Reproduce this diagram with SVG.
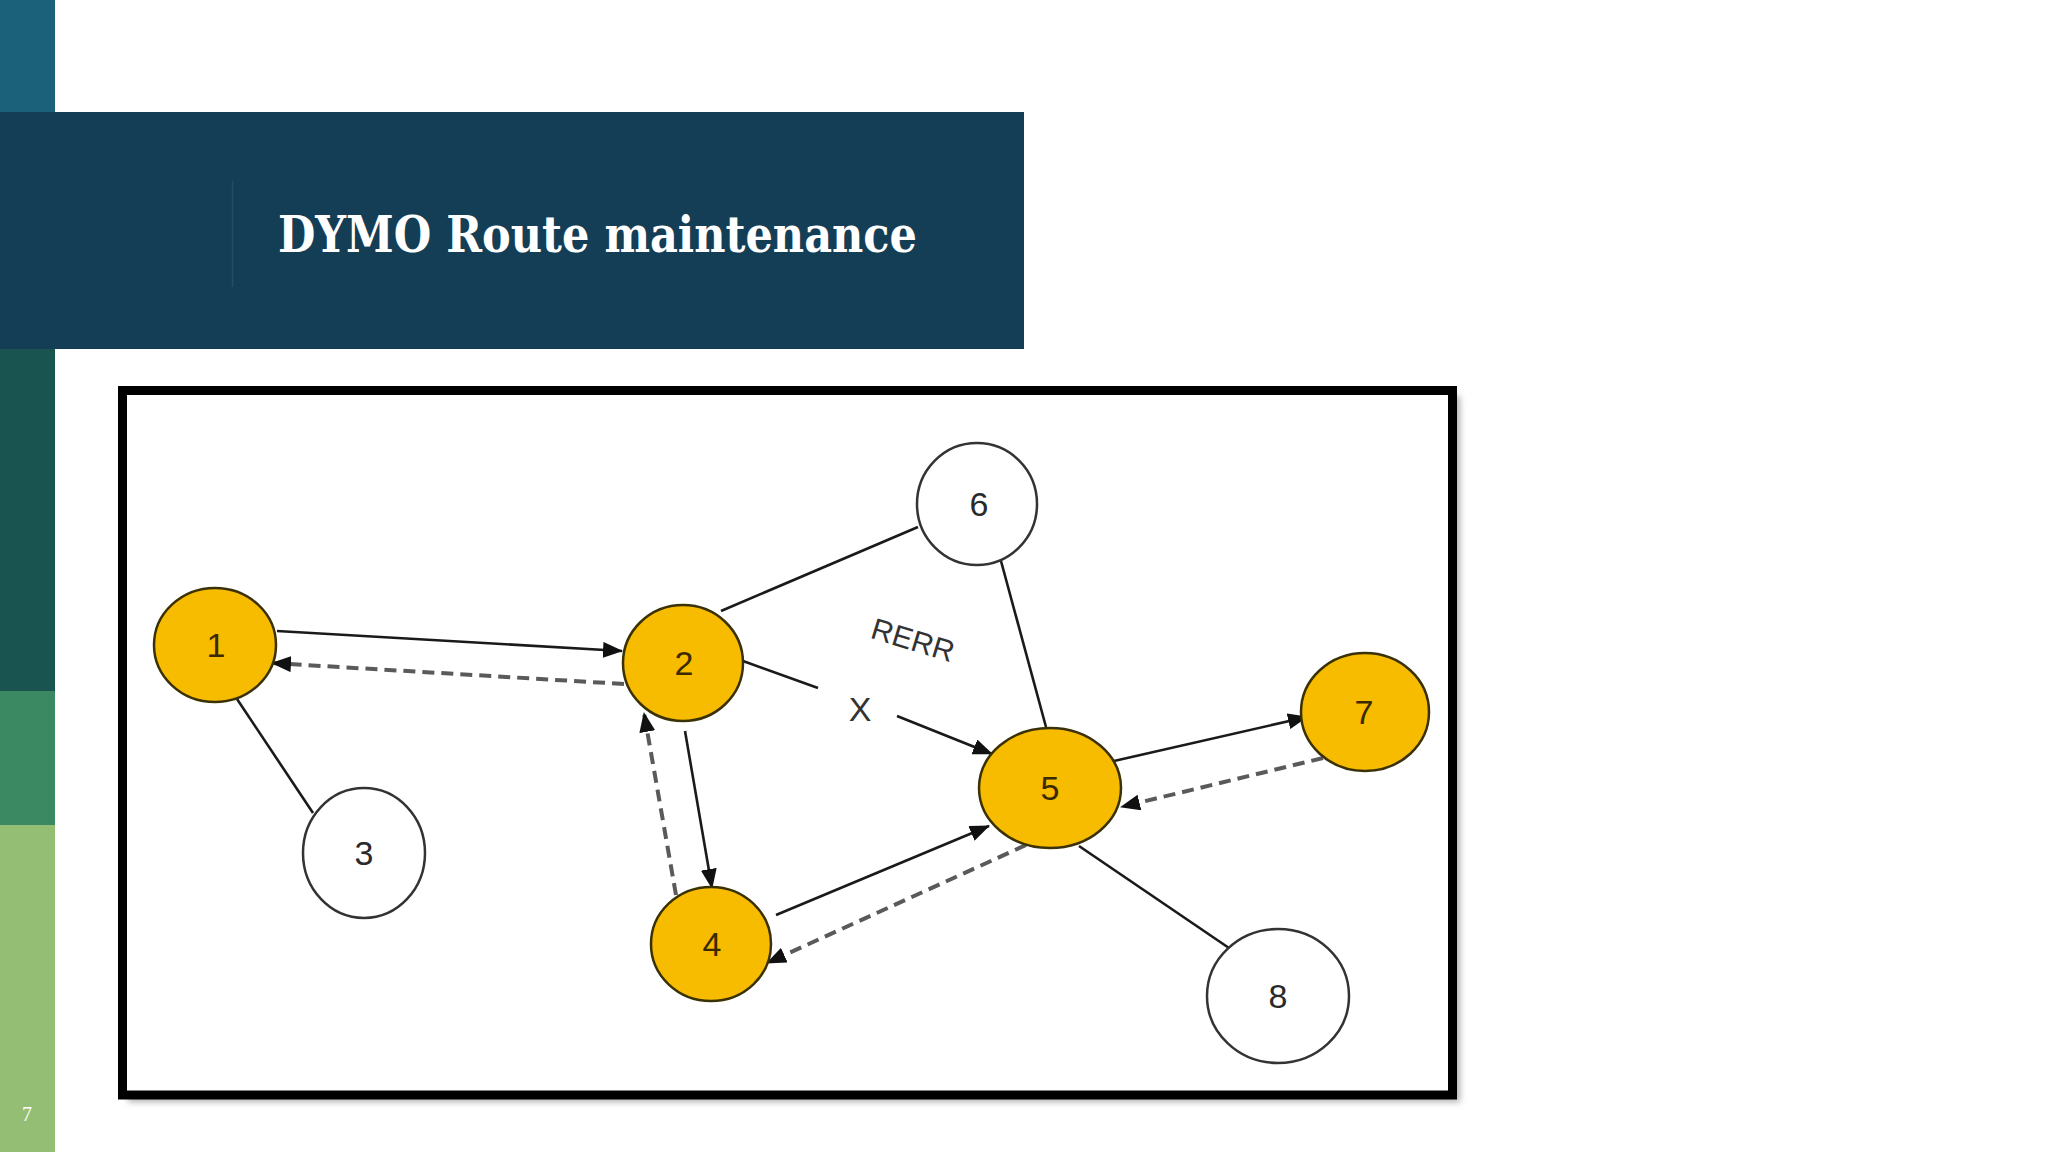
<svg xmlns="http://www.w3.org/2000/svg" width="2048" height="1152" viewBox="0 0 2048 1152">
<style>
.yn{fill:#f7bb00;stroke:#3a3206;stroke-width:2.5}
.wn{fill:#ffffff;stroke:#333333;stroke-width:2.5}
.lbl{font-family:"Liberation Sans","Open Sans",sans-serif;font-size:34px;fill:#2a2a2a;text-anchor:middle}
.ylbl{fill:#3a2a00}
.solid{stroke:#1a1a1a;stroke-width:2.6;fill:none}
.dash{stroke:#5a5a5a;stroke-width:4;stroke-dasharray:12 7;fill:none}
</style>
<defs>
<marker id="ah" markerUnits="userSpaceOnUse" markerWidth="20" markerHeight="16" refX="19" refY="8" orient="auto">
<path d="M0,0 L20,8 L0,16 z" fill="#111"/>
</marker>
<filter id="sh" x="-5%" y="-5%" width="110%" height="110%">
<feGaussianBlur stdDeviation="3"/>
</filter>
</defs>
<rect width="2048" height="1152" fill="#ffffff"/>
<!-- left bar -->
<rect x="0" y="0" width="55" height="112" fill="#1b6179"/>
<rect x="0" y="349" width="55" height="342" fill="#1a5450"/>
<rect x="0" y="691" width="55" height="135" fill="#3b8963"/>
<rect x="0" y="825" width="55" height="327" fill="#94be73"/>
<text x="27" y="1121" font-family="Liberation Serif, DejaVu Serif, serif" font-size="20" fill="#ffffff" text-anchor="middle">7</text>
<!-- header -->
<rect x="0" y="112" width="1024" height="237" fill="#143d56"/>
<line x1="232.5" y1="181" x2="232.5" y2="287" stroke="#22506b" stroke-width="1.5"/>
<text x="278" y="252" font-family="DejaVu Serif, Liberation Serif, serif" font-weight="bold" font-size="50" fill="#ffffff" textLength="639" lengthAdjust="spacingAndGlyphs">DYMO Route maintenance</text>
<!-- frame -->
<rect x="128" y="396" width="1332" height="706" fill="#b0b0b0" filter="url(#sh)"/>
<rect x="122.5" y="390.5" width="1330" height="704.5" fill="#ffffff" stroke="#000000" stroke-width="9"/>
<!-- connectors -->
<g id="connectors">
<line class="solid" x1="277" y1="631" x2="622" y2="651" marker-end="url(#ah)"/>
<line class="dash" x1="624" y1="684" x2="272" y2="663" marker-end="url(#ah)"/>
<line class="solid" x1="237" y1="699" x2="313" y2="813"/>
<line class="solid" x1="721" y1="611" x2="918" y2="527"/>
<line class="solid" x1="743" y1="661" x2="818" y2="688"/>
<line class="solid" x1="897" y1="716" x2="992" y2="754" marker-end="url(#ah)"/>
<line class="solid" x1="1001" y1="561" x2="1046" y2="727"/>
<line class="solid" x1="685" y1="731" x2="712" y2="888" marker-end="url(#ah)"/>
<line class="dash" x1="676" y1="895" x2="644" y2="713" marker-end="url(#ah)"/>
<line class="solid" x1="776" y1="915" x2="989" y2="826" marker-end="url(#ah)"/>
<line class="dash" x1="1026" y1="845" x2="767" y2="963" marker-end="url(#ah)"/>
<line class="solid" x1="1114" y1="761" x2="1307" y2="717" marker-end="url(#ah)"/>
<line class="dash" x1="1323" y1="758" x2="1121" y2="807" marker-end="url(#ah)"/>
<line class="solid" x1="1079" y1="846" x2="1229" y2="948"/>
<text x="860" y="721" font-family="Liberation Sans, sans-serif" font-size="34" fill="#333" text-anchor="middle">X</text>
<text x="0" y="0" font-family="Liberation Sans, sans-serif" font-size="30" fill="#333" text-anchor="middle" transform="translate(910,650) rotate(17)">RERR</text>
</g>
<!-- nodes -->
<g id="node1"><ellipse class="yn" cx="215" cy="645" rx="61" ry="57"/><text class="lbl ylbl" x="216" y="657">1</text></g>
<g id="node2"><ellipse class="yn" cx="683" cy="663" rx="60" ry="58"/><text class="lbl ylbl" x="684" y="675">2</text></g>
<g id="node3"><ellipse class="wn" cx="364" cy="853" rx="61" ry="65"/><text class="lbl" x="364" y="865">3</text></g>
<g id="node4"><ellipse class="yn" cx="711" cy="944" rx="60" ry="57"/><text class="lbl ylbl" x="712" y="956">4</text></g>
<g id="node5"><ellipse class="yn" cx="1050" cy="788" rx="71" ry="60"/><text class="lbl ylbl" x="1050" y="800">5</text></g>
<g id="node6"><ellipse class="wn" cx="977" cy="504" rx="60" ry="61"/><text class="lbl" x="979" y="516">6</text></g>
<g id="node7"><ellipse class="yn" cx="1365" cy="712" rx="64" ry="59"/><text class="lbl ylbl" x="1364" y="724">7</text></g>
<g id="node8"><ellipse class="wn" cx="1278" cy="996" rx="71" ry="67"/><text class="lbl" x="1278" y="1008">8</text></g>
</svg>
